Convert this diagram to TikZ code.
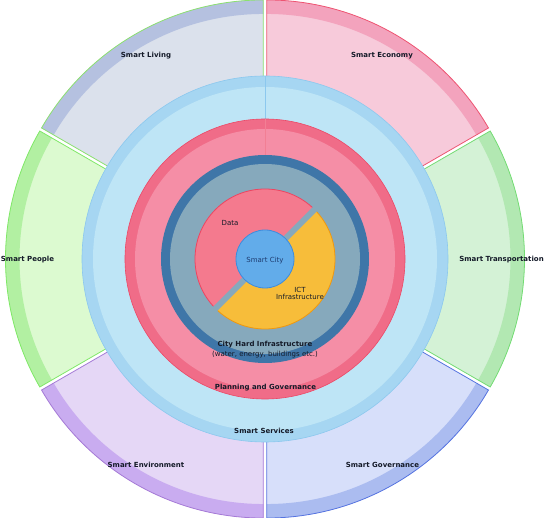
\documentclass[tikz,border=0pt]{standalone}
\usepackage{fontspec}
\setmainfont{DejaVu Sans}
\definecolor{livL}{HTML}{DBE1EC}\definecolor{livB}{HTML}{B5C1E0}\definecolor{livD}{HTML}{8CE070}
\definecolor{ecoL}{HTML}{F7CADA}\definecolor{ecoB}{HTML}{F3A3BD}\definecolor{ecoD}{HTML}{EE5472}
\definecolor{peoL}{HTML}{DCFAD0}\definecolor{peoB}{HTML}{B2F0A2}\definecolor{peoD}{HTML}{80E868}
\definecolor{traL}{HTML}{D4F2D6}\definecolor{traB}{HTML}{B2E8B2}\definecolor{traD}{HTML}{74DC74}
\definecolor{envL}{HTML}{E5D7F6}\definecolor{envB}{HTML}{C9ACF0}\definecolor{envD}{HTML}{A57AD6}
\definecolor{govL}{HTML}{D7DFFA}\definecolor{govB}{HTML}{ABBCF0}\definecolor{govD}{HTML}{5573E0}
\definecolor{ssL}{HTML}{BEE5F6}\definecolor{ssB}{HTML}{A6D6F2}\definecolor{ssD}{HTML}{8CC8EE}
\definecolor{pgL}{HTML}{F58EA6}\definecolor{pgB}{HTML}{F06C88}\definecolor{pgD}{HTML}{EC4866}
\definecolor{chL}{HTML}{86A9BC}\definecolor{chB}{HTML}{3F76A8}
\definecolor{dataL}{HTML}{F47A8E}\definecolor{dataD}{HTML}{EE4460}
\definecolor{ictL}{HTML}{F7BD3A}\definecolor{ictD}{HTML}{F0980E}
\definecolor{scL}{HTML}{62ACEA}\definecolor{scD}{HTML}{3C8CDE}
\definecolor{txt}{HTML}{141A28}\definecolor{sctxt}{HTML}{1E3C70}
\begin{document}
\begin{tikzpicture}[x=1pt,y=1pt,
  lbl/.style={font=\fontsize{7}{8}\selectfont\bfseries, text=txt, inner sep=0pt},
  sml/.style={font=\fontsize{7}{8}\selectfont, text=txt, inner sep=0pt, align=center}]
\useasboundingbox (-265,-259) rectangle (280,259);
% outer segments
\foreach \a/\b/\lc/\bc/\dc in {90/150/livL/livB/livD, 30/90/ecoL/ecoB/ecoD,
  150/210/peoL/peoB/peoD, -30/30/traL/traB/traD, 210/270/envL/envB/envD, 270/330/govL/govB/govD}{
  \pgfmathsetmacro\m{(\a+\b)/2}
  \begin{scope}[shift={(\m:3.5)}]
    \fill[fill=\lc] (0,0) -- (\a:256) arc[start angle=\a,end angle=\b,radius=256] -- cycle;
    \fill[fill=\bc] (\a:256) arc[start angle=\a,end angle=\b,radius=256] -- (\b:242)
       arc[start angle=\b,end angle=\a,radius=242] -- cycle;
    \draw[draw=\dc, line width=0.8pt] (0,0) -- (\a:256) arc[start angle=\a,end angle=\b,radius=256] -- cycle;
  \end{scope}
}
% smart services ring
\fill[ssB] (0,0) circle[radius=183];
\fill[ssL] (0,0) circle[radius=172];
\draw[ssD, line width=0.6pt] (0,0) circle[radius=183];
\draw[ssD, line width=0.5pt] (90:140) -- (90:183);
% planning and governance ring
\fill[pgB] (0,0) circle[radius=140];
\fill[pgL] (0,0) circle[radius=130];
\draw[pgD, line width=0.6pt] (0,0) circle[radius=140];
\draw[pgD!70, line width=0.5pt] (90:104) -- (90:140);
% city hard infrastructure
\fill[chB] (0,0) circle[radius=104];
\fill[chL] (0,0) circle[radius=95];
% data and ICT
\fill[dataL, draw=dataD, line width=0.8pt] (0,0) -- (45:70) arc[start angle=45,end angle=225,radius=70] -- cycle;
\fill[ictL, draw=ictD, line width=0.8pt] (0,0) -- (225:70) arc[start angle=225,end angle=405,radius=70] -- cycle;
\draw[chL, line width=6pt] (225:74) -- (45:74);
% smart city
\fill[scL, draw=scD, line width=0.8pt] (0,0) circle[radius=29];
% labels
\node[lbl] (living) at (-119,203) {Smart Living};
\node[lbl] (economy) at (117,203) {Smart Economy};
\node[lbl] (people) at (-237.5,-1) {Smart People};
\node[lbl] (transport) at (236.5,-1) {Smart Transportation};
\node[lbl] (environment) at (-119,-206) {Smart Environment};
\node[lbl] (governance) at (117.5,-206) {Smart Governance};
\node[lbl] (services) at (-1,-172) {Smart Services};
\node[lbl] (planning) at (0.5,-129) {Planning and Governance};
\node[lbl] (cityhard) at (0,-86) {City Hard Infrastructure};
\node[sml] (cityhard2) at (0,-95.5) {(water, energy, buildings etc.)};
\node[sml] (data) at (-35,36) {Data};
\node[sml, text=sctxt] (smartcity) at (0,-2) {Smart City};
\node[sml] (ict) at (35,-34) {ICT\\[-1pt]Infrastructure};
\end{tikzpicture}
\end{document}
